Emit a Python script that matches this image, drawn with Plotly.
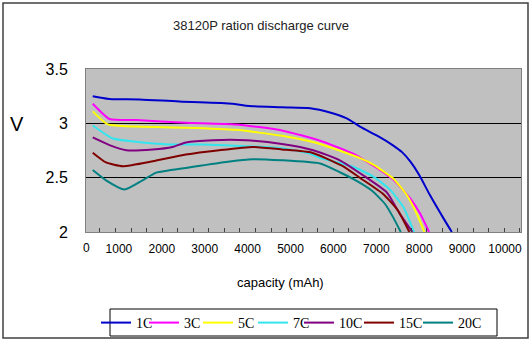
import plotly.graph_objects as go

series_names = ["1C", "3C", "5C", "7C", "10C", "15C", "20C"]
series_colors = ["#0000CC", "#FF00FF", "#FFFF00", "#33E5EE", "#800080", "#800000", "#008080"]

x_1c = [390, 780, 1480, 2410, 3650, 4040, 4800, 5460, 5920, 6310, 6620, 7050, 7380, 7600, 7800, 8000, 8250, 8560, 8760]
v_1c = [3.25, 3.225, 3.22, 3.20, 3.18, 3.16, 3.148, 3.139, 3.10, 3.046, 2.97, 2.88, 2.80, 2.735, 2.645, 2.525, 2.34, 2.13, 2.0]

x_3c = [390, 780, 1400, 2560, 3730, 4800, 5690, 6460, 7090, 7400, 7790, 8020, 8230]
v_3c = [3.18, 3.04, 3.03, 3.006, 2.99, 2.935, 2.84, 2.72, 2.57, 2.48, 2.31, 2.17, 2.0]

x_5c = [390, 740, 1400, 2560, 3730, 4800, 5690, 6620, 6930, 7400, 7710, 7940, 8120]
v_5c = [3.11, 2.99, 2.97, 2.96, 2.94, 2.885, 2.81, 2.68, 2.62, 2.49, 2.34, 2.17, 2.0]

x_7c = [390, 860, 1400, 2180, 2950, 3960, 4800, 5460, 5690, 6460, 6930, 7320, 7630, 7880]
v_7c = [2.98, 2.86, 2.83, 2.806, 2.806, 2.79, 2.77, 2.72, 2.68, 2.60, 2.51, 2.39, 2.23, 2.0]

x_10c = [390, 780, 1170, 1790, 2250, 2560, 3190, 3960, 4800, 5530, 6150, 6700, 7240, 7550, 7840]
v_10c = [2.87, 2.80, 2.753, 2.76, 2.783, 2.824, 2.845, 2.845, 2.81, 2.753, 2.66, 2.52, 2.367, 2.167, 2.0]

x_15c = [390, 700, 1090, 1790, 2560, 3340, 4120, 4800, 5500, 6200, 6650, 7160, 7500, 7770]
v_15c = [2.73, 2.64, 2.605, 2.651, 2.713, 2.753, 2.783, 2.76, 2.73, 2.61, 2.49, 2.35, 2.20, 2.0]

x_20c = [390, 700, 1130, 1550, 1870, 2560, 3500, 4120, 4800, 5690, 6150, 6500, 6900, 7200, 7400, 7570]
v_20c = [2.57, 2.475, 2.39, 2.475, 2.546, 2.59, 2.645, 2.67, 2.66, 2.63, 2.55, 2.48, 2.38, 2.26, 2.13, 2.0]

x_tick_vals = [1000, 2000, 3000, 4000, 5000, 6000, 7000, 8000, 9000, 10000]
x_tick_text = ["1000", "2000", "3000", "4000", "5000", "6000", "7000", "8000", "9000", "10000"]
y_tick_vals = [2, 2.5, 3, 3.5]
y_tick_text = ["2", "2.5", "3", "3.5"]

xs = [x_1c, x_3c, x_5c, x_7c, x_10c, x_15c, x_20c]
vs = [v_1c, v_3c, v_5c, v_7c, v_10c, v_15c, v_20c]
smooth = [0.8, 0.5, 0.5, 0.5, 0.5, 0.5, 0.5]

FONT = "Liberation Sans, Arial, sans-serif"
LEG_FONT = "Liberation Serif, Times New Roman, serif"

# plot area in pixels
PL, PR, PT, PB = 86, 521, 69, 232
PW, PH = PR - PL, PB - PT


def px(x):
    return (x - PL) / PW


def py(y):
    return (PB - y) / PH


legend_left_px = [96, 144, 198, 253, 299, 359, 418]

fig = go.Figure()
legend_layouts = {}
for i, (name, color, x, v) in enumerate(zip(series_names, series_colors, xs, vs)):
    key = "legend" if i == 0 else f"legend{i + 1}"
    fig.add_trace(go.Scatter(
        x=x, y=v, name=name, mode="lines", legend=key,
        line=dict(color=color, width=2, shape="spline", smoothing=smooth[i]),
    ))
    legend_layouts[key] = dict(
        orientation="h",
        x=px(legend_left_px[i]), y=py(323), xanchor="left", yanchor="middle",
        bgcolor="rgba(0,0,0,0)", borderwidth=0,
        font=dict(family=LEG_FONT, size=14, color="black"),
        itemwidth=30,
    )

fig.update_layout(
    width=532, height=341,
    margin=dict(l=PL, r=532 - PR, t=PT, b=341 - PB, autoexpand=False),
    paper_bgcolor="white",
    plot_bgcolor="#C0C0C0",
    font=dict(family=FONT, color="black", size=12),
    showlegend=True,
    xaxis=dict(
        range=[233, 10373],
        tickvals=x_tick_vals, ticktext=x_tick_text,
        showgrid=False, zeroline=False,
        showline=True, linecolor="#808080", linewidth=1, mirror=True,
        ticks="", ticklabelstandoff=6,
        tickfont=dict(size=12, color="black"),
        minor=dict(ticks="inside", tick0=559, dtick=362.5, ticklen=4, tickcolor="#404040", showgrid=False),
    ),
    yaxis=dict(
        range=[2, 3.5],
        tickvals=y_tick_vals, ticktext=y_tick_text,
        showgrid=True, gridcolor="black", gridwidth=1,
        zeroline=False,
        showline=True, linecolor="#808080", linewidth=1, mirror=True,
        ticks="", ticklabelstandoff=14,
        tickfont=dict(size=16, color="black"),
    ),
    annotations=[
        dict(text="38120P ration discharge curve", xref="paper", yref="paper",
             x=px(261), y=py(25), xanchor="center", yanchor="middle",
             showarrow=False, font=dict(size=13, color="#222222")),
        dict(text="capacity (mAh)", xref="paper", yref="paper",
             x=px(280), y=py(282), xanchor="center", yanchor="middle",
             showarrow=False, font=dict(size=13, color="black")),
        dict(text="V", xref="paper", yref="paper",
             x=px(17), y=py(124), xanchor="center", yanchor="middle",
             showarrow=False, font=dict(size=20, color="black")),
        dict(text="0", xref="paper", yref="paper",
             x=0, y=py(248), xanchor="center", yanchor="middle",
             showarrow=False, font=dict(size=12, color="black")),
    ],
    shapes=[
        dict(type="rect", xref="paper", yref="paper",
             x0=px(3), x1=px(528), y0=py(338), y1=py(3),
             line=dict(color="#404040", width=1.5), fillcolor="rgba(0,0,0,0)", layer="below"),
        dict(type="rect", xref="paper", yref="paper",
             x0=px(110), x1=px(497), y0=py(336), y1=py(309),
             line=dict(color="black", width=1), fillcolor="rgba(0,0,0,0)", layer="below"),
    ],
    **legend_layouts,
)

fig.write_html("out.html")
